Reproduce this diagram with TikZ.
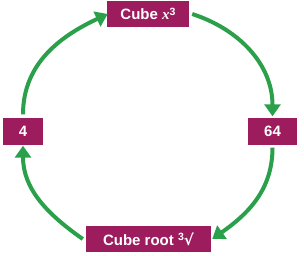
\documentclass[tikz,border=0pt]{standalone}
\usepackage{fontspec}
\setmainfont{Liberation Sans}
\newfontfamily\serifit{Liberation Serif}
\newfontfamily\symfont{DejaVu Sans}
\usetikzlibrary{arrows.meta}
\definecolor{boxc}{HTML}{9C1C5E}
\definecolor{arrc}{HTML}{2BA04A}
\tikzset{
  label box/.style={fill=boxc, text=white, font=\bfseries\fontsize{15}{17}\selectfont, inner sep=0pt, minimum height=26pt, anchor=center},
  cyc/.style={draw=arrc, line width=4pt, -{Triangle[width=16pt,length=12pt]}}
}
\newcommand{\supthree}{\raisebox{0.55ex}{\bfseries\fontsize{10.5}{11}\selectfont 3}}
\begin{document}
\begin{tikzpicture}[x=1pt,y=1pt]
\useasboundingbox (0,0) rectangle (304,255);
\node[label box, minimum width=82pt] (top) at (148,241) {Cube\ {\serifit\itshape x}\supthree};
\node[label box, minimum width=40pt, minimum height=27pt] (left) at (23,124) {4};
\node[label box, minimum width=49pt, minimum height=27pt] (right) at (272.5,124) {64};
\node[label box, minimum width=125pt] (bot) at (148.5,16) {Cube root \supthree{\symfont\bfseries √}};
\draw[cyc] ([yshift=3pt]left.north) to[out=90, in=205] ([xshift=1pt]top.west);
\draw[cyc] ([xshift=3pt]top.east) to[out=-18, in=90] ([yshift=1pt]right.north);
\draw[cyc] ([yshift=-3pt]right.south) to[out=-90, in=35] ([xshift=1pt]bot.east);
\draw[cyc] ([xshift=-3pt]bot.west) to[out=145, in=-90] ([yshift=-1pt]left.south);
\end{tikzpicture}
\end{document}
